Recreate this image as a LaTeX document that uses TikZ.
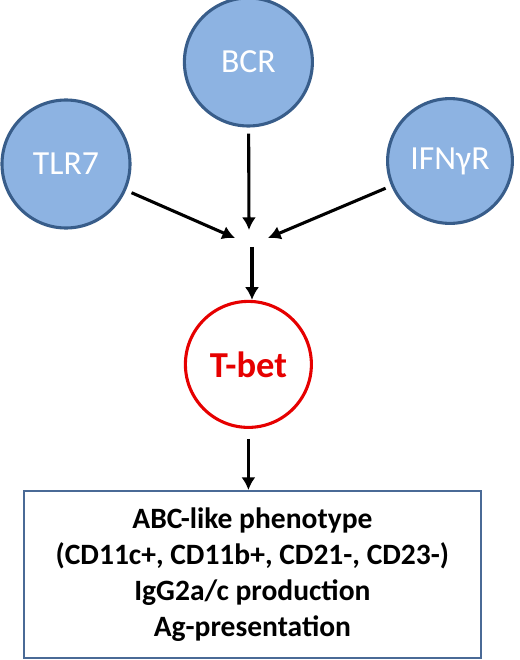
\documentclass[tikz,border=0pt]{standalone}
\usepackage{fontspec}
\setmainfont{Carlito}
\usetikzlibrary{arrows.meta}
\definecolor{recfill}{RGB}{141,179,226}
\definecolor{recline}{RGB}{56,93,138}
\definecolor{tbetred}{RGB}{230,0,0}
\definecolor{boxline}{RGB}{74,106,150}
\begin{document}
\begin{tikzpicture}[receptor/.style={circle,fill=recfill,draw=recline,line width=2.2pt,minimum size=3.2cm,inner sep=0pt,text=white,font=\fontsize{24}{28}\selectfont},
arrow/.style={-{Latex[length=9pt,width=10pt]},line width=2.2pt}]
\useasboundingbox (0,0) rectangle (13,16.5);
\node[receptor] (bcr) at (6.21,14.95) {BCR};
\node[receptor] (tlr) at (1.65,12.4) {TLR7};
\node[receptor,minimum size=3.12cm] (ifn) at (11.25,12.475) {IFNγR};
\node[circle,draw=tbetred,fill=white,line width=2.2pt,minimum size=3.15cm,text=tbetred,font=\fontsize{26}{30}\selectfont\bfseries] (tbet) at (6.21,7.39) {T-bet};
\node[draw=boxline,line width=1.4pt,minimum width=11.42cm,minimum height=4.17cm,align=center,font=\fontsize{21}{25.5}\selectfont\bfseries] (abc) at (6.31,2.14) {ABC-like phenotype\\(CD11c+, CD11b+, CD21-, CD23-)\\IgG2a/c production\\Ag-presentation};
\coordinate (inTLR) at (5.875,10.55);
\coordinate (inBCR) at (6.225,10.75);
\coordinate (inIFN) at (6.7,10.55);
\coordinate (hub) at (6.3,10.33);
\draw[arrow,shorten <=0.15cm] (bcr) -- (inBCR);
\draw[arrow,shorten <=0.15cm] (tlr) -- (inTLR);
\draw[arrow,shorten <=0.15cm] (ifn) -- (inIFN);
\draw[arrow] (hub) -- (hub |- tbet.north);
\draw[arrow,shorten <=0.25cm] (tbet) -- (tbet |- abc.north);
\end{tikzpicture}
\end{document}
